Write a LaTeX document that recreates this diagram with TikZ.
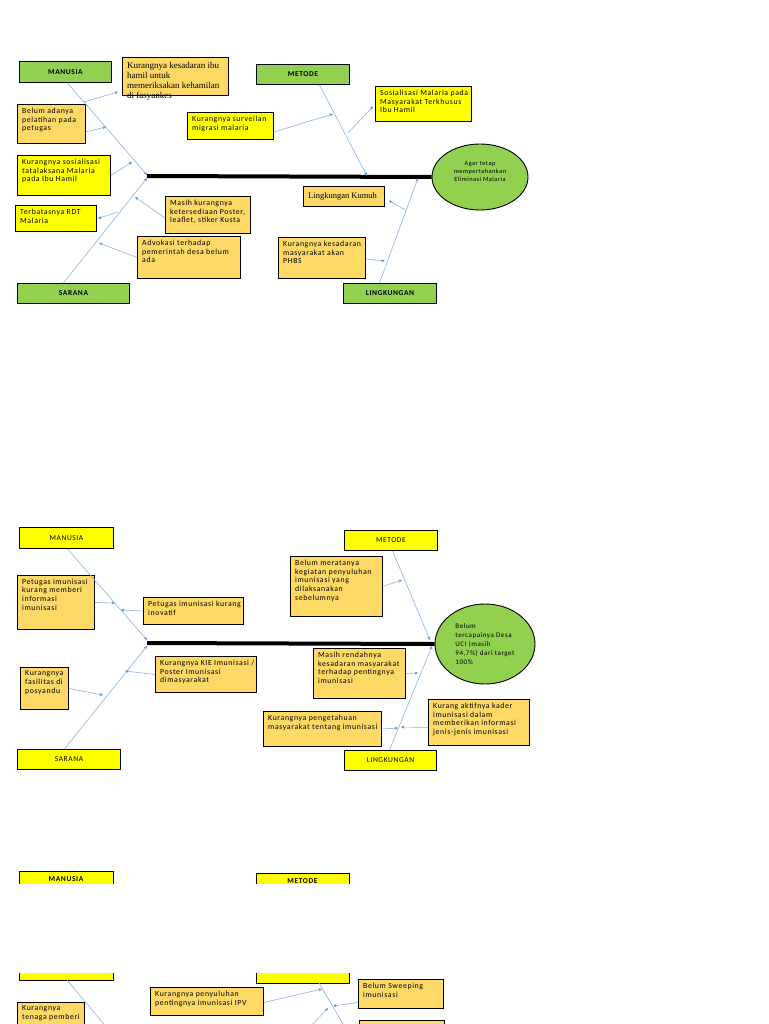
\documentclass[tikz,border=0pt]{standalone}
\usepackage{fontspec}
\setmainfont{Carlito}
\newfontfamily\cf[LetterSpace=8]{Carlito}
\newfontfamily\serf{Liberation Serif}
\usetikzlibrary{arrows.meta,calc,shapes.geometric}
\definecolor{cgreen}{HTML}{92D050}
\definecolor{corange}{HTML}{FFD966}
\definecolor{cyellow}{HTML}{FFFF00}
\definecolor{cbone}{HTML}{8DB3E2}
\definecolor{carrow}{HTML}{5B8FD0}
\tikzset{
 gbox/.style={draw=black, line width=0.9pt, fill=cgreen, inner sep=0pt, anchor=north west},
 ybox/.style={draw=black, line width=0.9pt, fill=cyellow, inner sep=0pt, anchor=north west},
 obox/.style={draw=black, line width=0.9pt, fill=corange, inner sep=0pt, anchor=north west},
 txt/.style={font=\cf\fontsize{7.8}{8.9}\selectfont, align=left, inner sep=0pt, anchor=north west},
 hdr/.style={font=\cf\fontsize{7.5}{8}\selectfont\bfseries},
 midlabel/.style={font=\cf\fontsize{7.5}{8}\selectfont},
 bone/.style={draw=cbone, line width=0.6pt, -{Stealth[length=3.5pt,width=3pt,color=carrow]}},
 boneline/.style={draw=cbone, line width=0.6pt},
 spine/.style={line width=4pt, black},
 frag/.style={line width=0.9pt, black},
}
\newcommand\fbx[7]{%
 \node[#2, minimum width=#5pt, minimum height=#6pt] (#1) at (#3,#4) {};
 \node[txt] (#1-t) at ([xshift=5pt,yshift=-3.5pt]#1.north west) {#7};}
\begin{document}
\begin{tikzpicture}[x=1pt,y=-1pt]
\useasboundingbox (0,0) rectangle (768,1024);
\clip (0,0) rectangle (768,1024);
\fill[white] (0,0) rectangle (768,1024);

% ================= TOP DIAGRAM =================
\node[gbox,hdr,minimum width=92pt,minimum height=21pt] (m1) at (19,61) {MANUSIA};
\node[obox,minimum width=106pt,minimum height=38pt] (k1) at (122,57) {};
\node[anchor=north west, inner sep=0pt, align=left, font=\serf\fontsize{9}{10}\selectfont] (k1-t) at ([xshift=5pt,yshift=-5pt]k1.north west) {Kurangnya kesadaran ibu\\hamil untuk\\memeriksakan kehamilan\\di fasyankes};
\node[gbox,hdr,minimum width=93pt,minimum height=20pt] (mt1) at (256,64) {METODE};
\fbx{s1}{ybox}{375}{86}{96}{35}{Sosialisasi Malaria pada\\Masyarakat Terkhusus\\Ibu Hamil}
\fbx{s2}{ybox}{187}{112}{86}{27}{Kurangnya surveilan\\migrasi malaria}
\fbx{s3}{obox}{17}{104}{68}{39}{Belum adanya\\pelatihan pada\\petugas}
\fbx{s4}{ybox}{17}{155}{93}{40}{Kurangnya sosialisasi\\tatalaksana Malaria\\pada Ibu Hamil}
\node[draw, line width=0.9pt, ellipse, fill=cgreen, minimum width=96pt, minimum height=66pt, inner sep=0pt, align=center, font=\cf\fontsize{6.3}{8}\selectfont] (e1) at (480,177) {Agar tetap\\mempertahankan\\Eliminasi Malaria\\[3pt]};
\node[obox,minimum width=81pt,minimum height=20pt] (lk) at (303,186) {};
\node[anchor=west, inner sep=0pt, font=\serf\fontsize{8.5}{10}\selectfont] (lk-t) at ([xshift=5pt]lk.west) {Lingkungan Kumuh};
\fbx{t1}{ybox}{15}{205}{81}{26}{Terbatasnya RDT\\Malaria}
\fbx{p1}{obox}{165}{196}{85}{37}{Masih kurangnya\\ketersediaan Poster,\\leaflet, stiker Kusta}
\fbx{a1}{obox}{137}{236}{103}{42}{Advokasi terhadap\\pemerintah desa belum\\ada}
\fbx{ph}{obox}{278}{237}{87}{41}{Kurangnya kesadaran\\masyarakat akan\\PHBS}
\node[gbox,hdr,minimum width=112pt,minimum height=20pt] (sr1) at (17,283) {SARANA};
\node[gbox,hdr,minimum width=93pt,minimum height=20pt] (lg1) at (343,283) {LINGKUNGAN};

\coordinate (sp1) at (147,176);
\draw[spine] (sp1) -- (e1.west);
\coordinate (mb1) at (147,175);
\coordinate (sb1) at (147,178);
\coordinate (tb1) at (367,176);
\coordinate (lb1) at (418,178);
\draw[bone] ([xshift=2pt]m1.south) -- (mb1);
\draw[bone] ([xshift=-10pt]sr1.north) -- (sb1);
\draw[bone] ([xshift=16.5pt]mt1.south) -- (tb1);
\draw[bone] ([xshift=-10.5pt]lg1.north) -- (lb1);
\coordinate (ak1) at (84,102);
\coordinate (as3) at (106,127);
\coordinate (as4) at (132,162);
\coordinate (at1) at (118,212);
\coordinate (ap1) at (135,197);
\coordinate (aa1) at (99,243);
\coordinate (as2) at (333,114);
\coordinate (as1) at (348,133);
\coordinate (alk) at (405,210);
\coordinate (aph) at (385,261);
\draw[bone] (ak1) -- ([xshift=-4pt,yshift=4pt]k1.south west);
\draw[bone] ([yshift=-8pt]s3.east) -- (as3);
\draw[bone] (s4.east) -- (as4);
\draw[bone] (at1) -- ([xshift=1pt]t1.east);
\draw[bone] ([yshift=-3pt]p1.west) -- (ap1);
\draw[bone] (a1.west) -- (aa1);
\draw[bone] ([yshift=-6pt]s2.east) -- (as2);
\draw[bone] (as1) -- ([xshift=-2pt,yshift=-2.5pt]s1.west);
\draw[bone] (alk) -- ([xshift=4pt,yshift=-4pt]lk.east);
\draw[bone] ([yshift=-1pt]ph.east) -- (aph);

% ================= MIDDLE DIAGRAM =================
\node[ybox,midlabel,minimum width=94pt,minimum height=21pt] (m2) at (19,527) {MANUSIA};
\fbx{b1}{obox}{17}{575}{77}{54}{Petugas imunisasi\\kurang memberi\\informasi\\imunisasi}
\fbx{b2}{obox}{143}{597}{100}{27}{Petugas imunisasi kurang\\inovatif}
\fbx{b3}{obox}{20}{667}{48}{42}{Kurangnya\\fasilitas di\\posyandu}
\fbx{b4}{obox}{155}{656}{101}{36}{Kurangnya KIE Imunisasi /\\Poster Imunisasi\\dimasyarakat}
\node[ybox,midlabel,minimum width=103pt,minimum height=20pt] (sr2) at (17,749) {SARANA};
\node[ybox,midlabel,minimum width=93pt,minimum height=20pt] (mt2) at (344,530) {METODE};
\fbx{b5}{obox}{290}{556}{92}{60}{Belum meratanya\\kegiatan penyuluhan\\imunisasi yang\\dilaksanakan\\sebelumnya}
\node[draw, line width=0.9pt, ellipse, fill=cgreen, minimum width=100pt, minimum height=80pt, inner sep=0pt, align=left, font=\cf\fontsize{7}{9}\selectfont] (e2) at (485,644) {Belum\\tercapainya Desa\\UCI (masih\\94,7\%) dari target\\100\%};
\fbx{b6}{obox}{313}{648}{92}{50}{Masih rendahnya\\kesadaran masyarakat\\terhadap pentingnya\\imunisasi}
\fbx{b7}{obox}{263}{711}{118}{35}{Kurangnya pengetahuan\\masyarakat tentang imunisasi}
\fbx{b8}{obox}{428}{699}{101}{46}{Kurang aktifnya kader\\imunisasi dalam\\memberikan informasi\\jenis-jenis imunisasi}
\node[ybox,midlabel,minimum width=92pt,minimum height=20pt] (lg2) at (344,750) {LINGKUNGAN};

\coordinate (sp2) at (147,643);
\draw[spine] (sp2) -- (e2.west);
\coordinate (mb2) at (147,640);
\coordinate (sb2) at (147,646);
\coordinate (tb2) at (430,640);
\coordinate (lb2) at (432,646);
\draw[bone] ([xshift=1pt]m2.south) -- (mb2);
\draw[bone] ([xshift=-4.5pt]sr2.north) -- (sb2);
\draw[bone] ([xshift=1.5pt]mt2.south) -- (tb2);
\draw[bone] ([xshift=-1pt]lg2.north) -- (lb2);
\coordinate (ab1) at (115,603);
\coordinate (ab2) at (121,610);
\coordinate (ab3) at (103,695);
\coordinate (ab4) at (125,671);
\coordinate (ab5) at (402,580);
\coordinate (ab6) at (418,673);
\coordinate (ab7) at (398,728);
\coordinate (ab8) at (401,727);
\draw[bone] (b1.east) -- (ab1);
\draw[bone] (b2.west) -- (ab2);
\draw[bone] (b3.east) -- (ab3);
\draw[bone] (b4.west) -- (ab4);
\draw[bone] (b5.east) -- (ab5);
\draw[bone] (b6.east) -- (ab6);
\draw[bone] (b7.east) -- (ab7);
\draw[bone] ([yshift=-5pt]b8.west) -- (ab8);

% ================= BOTTOM (cut) DIAGRAM =================
\fill[cyellow] (19,871) rectangle (113,884);
\draw[frag] (19,884) -- (19,871) -- (113,871) -- (113,884);
\node[hdr] (m3t) at (66,879) {MANUSIA};
\fill[cyellow] (256,873) rectangle (349,884);
\draw[frag] (256,884) -- (256,873) -- (349,873) -- (349,884);
\begin{scope}
\clip (256,873) rectangle (349,884);
\node[hdr] (mt3t) at (302.5,881) {METODE};
\end{scope}
\fill[cyellow] (19,973) rectangle (113,980);
\draw[frag] (19,973) -- (19,980) -- (113,980) -- (113,973);
\fill[cyellow] (256,973) rectangle (349,983);
\begin{scope}
\clip (256,973) rectangle (349,983);
\node[hdr] (mt3f) at (302.5,970.5) {METODE};
\end{scope}
\draw[frag] (256,973) -- (256,983) -- (349,983) -- (349,973);

\fbx{b9}{obox}{17}{1002}{67}{40}{Kurangnya\\tenaga pemberi}
\fbx{b10}{obox}{150}{987}{113}{28}{Kurangnya penyuluhan\\pentingnya imunisasi IPV}
\fbx{b11}{obox}{358}{979}{85}{29}{Belum Sweeping\\imunisasi}
\node[obox,minimum width=85pt,minimum height=20pt] (b12) at (359,1020) {};

\coordinate (mb3s) at (67,980);
\coordinate (mb3e) at (108,1029);
\coordinate (tb3s) at (319,983);
\coordinate (tb3e) at (346,1029);
\draw[boneline] (mb3s) -- (mb3e);
\draw[boneline] (tb3s) -- (tb3e);
\coordinate (ab10) at (322,989);
\coordinate (ab11) at (333,1006);
\coordinate (ab12s) at (310,1027);
\coordinate (ab12) at (328,1008);
\draw[bone] ([yshift=-1pt]b10.east) -- (ab10);
\draw[bone] ([yshift=-8.5pt]b11.west) -- (ab11);
\draw[bone] (ab12s) -- (ab12);
\end{tikzpicture}
\end{document}
